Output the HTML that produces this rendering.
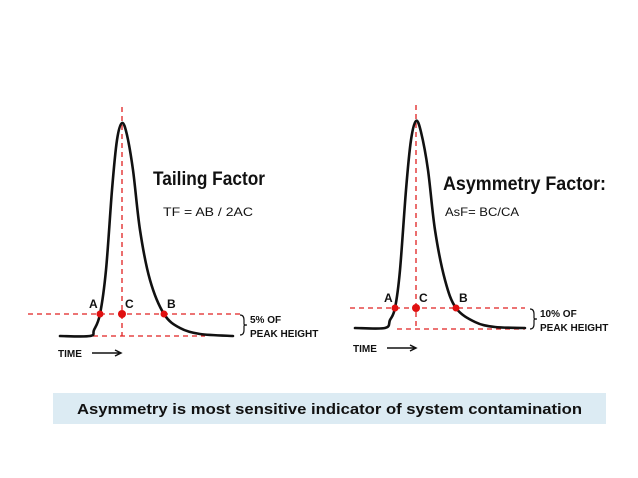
<!DOCTYPE html>
<html><head><meta charset="utf-8"><style>
body{margin:0;background:#fff;}
svg{display:block;}
text{font-family:"Liberation Sans",sans-serif;}
</style></head><body>
<svg width="638" height="478" viewBox="0 0 638 478">
<g id="root"></g>
<rect x="53" y="393" width="553" height="31" fill="#dcebf3"/>
<text x="329.5" y="414" text-anchor="middle" font-size="14.5" font-weight="bold" textLength="505" lengthAdjust="spacingAndGlyphs" fill="#111">Asymmetry is most sensitive indicator of system contamination</text>
</svg>
<script>
const leftX=[60,90,94,100,106,112,117,122,127,133,140,150,164,180,200,233];
const leftY=[336,336,330,314,270,190,140,123,135,170,230,280,314,328,334,336];
const rightX=[355,385,390,395,400,406,411,416,421,428,435,445,456,475,495,525];
const rightY=[328,328,320,308,270,190,140,121,132,170,230,280,308,322,327,328];
const panels=[
 {name:'tailing',xs:leftX,ys:leftY,A:100,C:122,B:164,ly:314,by:336,top:107,dashL:28,dashR:240,botL:93,botR:205,brace:240,
  title:'Tailing Factor',tx:153,ty:185,tsz:19,tlen:112,formula:'TF = AB / 2AC',fx:163,fy:216,flen:90,
  pct:'5% OF',ph:'PEAK HEIGHT',timeX:58,timeY:357},
 {name:'asymmetry',xs:rightX,ys:rightY,A:395,C:416,B:456,ly:308,by:329,top:105,dashL:350,dashR:525,botL:397,botR:525,brace:530,
  title:'Asymmetry Factor:',tx:443,ty:190,tsz:19,tlen:163,formula:'AsF= BC/CA',fx:445,fy:216,flen:74,
  pct:'10% OF',ph:'PEAK HEIGHT',timeX:353,timeY:352}
];
const NS='http://www.w3.org/2000/svg';
const root=document.getElementById('root');
function mk(tag,attrs,parent){const e=document.createElementNS(NS,tag);for(const k in attrs)e.setAttribute(k,attrs[k]);(parent||root).appendChild(e);return e;}
function smooth(xs,ys){
 let d='M'+xs[0]+' '+ys[0];
 for(let i=0;i<xs.length-1;i++){
  const x0=xs[Math.max(i-1,0)],y0=ys[Math.max(i-1,0)];
  const x1=xs[i],y1=ys[i],x2=xs[i+1],y2=ys[i+1];
  const x3=xs[Math.min(i+2,xs.length-1)],y3=ys[Math.min(i+2,xs.length-1)];
  const c1x=x1+(x2-x0)/6,c1y=y1+(y2-y0)/6,c2x=x2-(x3-x1)/6,c2y=y2-(y3-y1)/6;
  d+=` C${c1x.toFixed(1)} ${c1y.toFixed(1)} ${c2x.toFixed(1)} ${c2y.toFixed(1)} ${x2} ${y2}`;
 }
 return d;
}
panels.forEach(p=>{
 const g=mk('g',{});
 
 
 const dash={stroke:'#e02020','stroke-width':1.3,'stroke-dasharray':'5,4',fill:'none'};
 const l1=mk('line',Object.assign({x1:p.dashL,y1:p.ly,x2:p.dashR,y2:p.ly},dash),g);
 
 
 const l2=mk('line',Object.assign({x1:p.botL,y1:p.by,x2:p.botR,y2:p.by},dash),g);
 
 
 const l3=mk('line',Object.assign({x1:p.C,y1:p.top,x2:p.C,y2:p.by},dash),g);
 
 
 const c=mk('path',{d:smooth(p.xs,p.ys),fill:'none',stroke:'#111','stroke-width':2.6,'stroke-linejoin':'round','stroke-linecap':'round'},g);
 
 
 [['A',p.A],['C',p.C],['B',p.B]].forEach(([lab,x])=>{
  const d=mk('circle',{cx:x,cy:p.ly,r:lab==='C'?4:3.5,fill:'#e01010'},g);
  
  
  const t=mk('text',{x:lab==='A'?x-11:x+3,y:p.ly-6,'font-size':12,'font-weight':'bold',fill:'#111'},g);
  t.textContent=lab;
  
  
 });
 const br=mk('path',{d:`M${p.brace} ${p.ly+1} q4 0 4 5 v4 q0 1 3 1 q-3 0 -3 1 v4 q0 5 -4 5`,fill:'none',stroke:'#111','stroke-width':1.2},g);
 
 
 const t1=mk('text',{x:p.brace+10,y:p.ly+9,'font-size':10,'font-weight':'bold',fill:'#111'},g);
 t1.textContent=p.pct;
 
 
 const t2=mk('text',{x:p.brace+10,y:p.ly+23,'font-size':10,'font-weight':'bold',fill:'#111'},g);
 t2.textContent=p.ph;
 
 
 const tt=mk('text',{x:p.timeX,y:p.timeY,'font-size':10,'font-weight':'bold',fill:'#111'},g);
 tt.textContent='TIME';
 
 
 const ar=mk('path',{d:`M${p.timeX+34} ${p.timeY-4} h28 M${p.timeX+57} ${p.timeY-7} l6 3 l-6 3`,fill:'none',stroke:'#111','stroke-width':1.5},g);
 
 
 const ti=mk('text',{x:p.tx,y:p.ty,'font-size':p.tsz,'font-weight':'bold',fill:'#111',textLength:p.tlen,lengthAdjust:'spacingAndGlyphs'},g);
 ti.textContent=p.title;
 
 
 const fo=mk('text',{x:p.fx,y:p.fy,'font-size':12,fill:'#111',textLength:p.flen,lengthAdjust:'spacingAndGlyphs'},g);
 fo.textContent=p.formula;
 
 
});
</script>
</body></html>
